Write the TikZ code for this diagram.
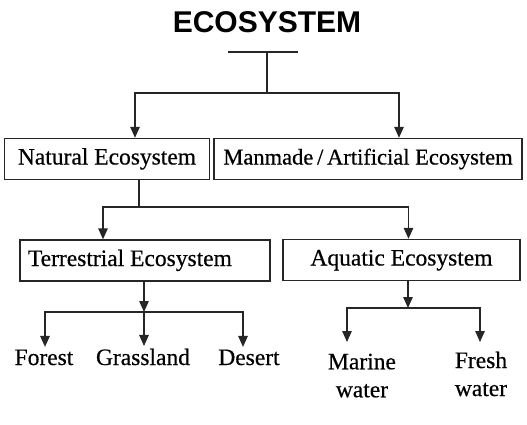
\documentclass[tikz,border=0pt]{standalone}
\usepackage{fontspec}
\setmainfont[FakeBold=0.5]{Liberation Serif}
\newfontfamily\titlefont{Liberation Sans}
\usetikzlibrary{arrows.meta}

\begin{document}
\begin{tikzpicture}[x=1pt,y=-1pt,
        line width=1.4pt, draw=black!85,
        box/.style={draw, inner xsep=0pt, minimum height=41pt, text height=16pt, text depth=5pt, font=\fontsize{23.5}{28}\selectfont},
        leaf/.style={inner sep=2pt, font=\fontsize{23.5}{28}\selectfont, align=center},
        arr/.style={-{Triangle[length=11pt,width=9.5pt]}}]
        \useasboundingbox (0,0) rectangle (527,425);
        \node[anchor=base, font=\titlefont\bfseries\fontsize{30}{34}\selectfont] (title) at (267,33) {ECOSYSTEM};
        % boxes
        \node[box, minimum width=205pt] (nat) at (107,159) {Natural Ecosystem};
        \node[box, minimum width=308pt, font=\fontsize{22.5}{28}\selectfont] (man) at (368,159) {Manmade\,/\,Artificial Ecosystem};
        \node[box, text width=234pt, align=flush left, inner xsep=8pt] (ter) at (145,260.5) {Terrestrial Ecosystem};
        \node[box, minimum width=237pt] (aqu) at (401.5,260) {Aquatic Ecosystem};
        % leaves
        \node[leaf, anchor=base] (forest) at (44,365) {Forest};
        \node[leaf, anchor=base] (grass) at (143,365) {Grassland};
        \node[leaf, anchor=base] (desert) at (249,365) {Desert};
        \node[leaf, anchor=north, inner ysep=11pt] (marine) at (362,342) {Marine\\water};
        \node[leaf, anchor=north, inner ysep=9pt] (fresh) at (481,342) {Fresh\\water};
        % joints
        \coordinate (t0) at (228,52);
        \coordinate (t1) at (298,52);
        \coordinate (t2) at (267,52);
        \coordinate (t3) at (267,93);
        \coordinate (n1) at (139,207);
        \coordinate (g1) at (144,312);
        \coordinate (w1) at (408,308);
        \draw (t0)--(t1) (t2)--(t3);
        \draw[arr] (t3) -| ([xshift=28pt]nat.north);
        \draw[arr] (t3) -| ([xshift=31pt]man.north);
        \draw ([xshift=32pt]nat.south)--(n1);
        \draw[arr] (n1) -| ([xshift=-42pt]ter.north);
        \draw[arr] (n1) -| ([xshift=7pt]aqu.north);
        \draw[arr] ([xshift=-1pt]ter.south)--(g1);
        \draw[arr] (g1) -| ([xshift=1pt]forest.north);
        \draw[arr] (g1)--(g1 |- grass.north);
        \draw[arr] (g1) -| ([xshift=-6pt]desert.north);
        \draw[arr] ([xshift=6.5pt]aqu.south)--(w1);
        \draw[arr] (w1) -| ([xshift=-15pt]marine.north);
        \draw[arr] (w1) -| ([xshift=-1pt]fresh.north);
    \end{tikzpicture}
\end{document}
